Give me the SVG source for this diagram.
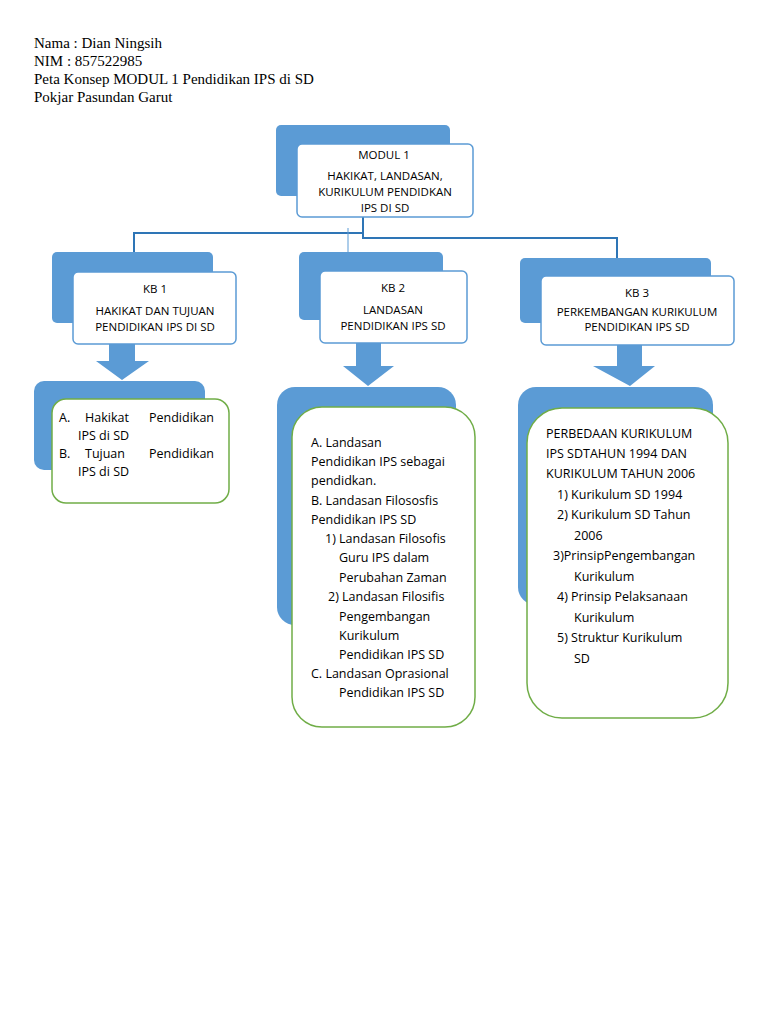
<svg xmlns="http://www.w3.org/2000/svg" width="768" height="1024" viewBox="0 0 768 1024">
<style>
.bl{fill:#5b9bd5}
.wb{fill:#fff;stroke:#5b9bd5;stroke-width:1.5}
.gb{fill:#fff;stroke:#70ad47;stroke-width:1.5}
.hd{font-family:"Liberation Serif",serif;font-size:15px;fill:#000}
.t{font-family:"Open Sans","Liberation Sans",sans-serif;font-size:11.5px;fill:#000}
.c{font-family:"Open Sans","Liberation Sans",sans-serif;font-size:12.5px;fill:#000}
.ln{fill:none;stroke:#2e75b6;stroke-width:2}
</style>
<rect width="768" height="1024" fill="#fff"/>
<g id="header">
<text class="hd" x="34" y="48">Nama : Dian Ningsih</text>
<text class="hd" x="34" y="66">NIM   : 857522985</text>
<text class="hd" x="34" y="84">Peta Konsep MODUL 1 Pendidikan IPS di SD</text>
<text class="hd" x="34" y="102">Pokjar Pasundan Garut</text>
</g>
<g id="connectors">
<polyline class="ln" points="363,217 363,233 134,233 134,252"/>
<polyline class="ln" points="363,230 363,238 617,238 617,258"/>
<line x1="348" y1="228" x2="348" y2="252" stroke="#5b9bd5" stroke-width="1"/>
<polygon class="bl" points="109,344 135,344 135,361 149,361 122,380 96,361 109,361"/>
<polygon class="bl" points="356,343 381,343 381,366 394,366 368,386 343,366 356,366"/>
<polygon class="bl" points="617,345 642,345 642,366 655,366 630,386 593,366 617,366"/>
</g>
<g id="modul1">
<rect class="bl" x="276" y="125" width="174" height="71" rx="5"/>
<rect class="wb" x="297" y="144" width="176" height="73" rx="5"/>
<text class="t" text-anchor="middle" x="384" y="159">MODUL 1</text>
<text class="t" text-anchor="middle" x="385" y="180">HAKIKAT, LANDASAN,</text>
<text class="t" text-anchor="middle" x="385" y="196">KURIKULUM PENDIDKAN</text>
<text class="t" text-anchor="middle" x="385" y="212">IPS DI SD</text>
</g>
<g id="kb1">
<rect class="bl" x="52" y="252" width="161" height="71" rx="5"/>
<rect class="wb" x="73" y="272" width="163" height="72" rx="5"/>
<text class="t" text-anchor="middle" x="155" y="293">KB 1</text>
<text class="t" text-anchor="middle" x="155" y="315">HAKIKAT DAN TUJUAN</text>
<text class="t" text-anchor="middle" x="155" y="331">PENDIDIKAN IPS DI SD</text>
</g>
<g id="kb2">
<rect class="bl" x="299" y="252" width="144" height="68" rx="5"/>
<rect class="wb" x="320" y="271" width="147" height="72" rx="5"/>
<text class="t" text-anchor="middle" x="393" y="292">KB 2</text>
<text class="t" text-anchor="middle" x="393" y="314">LANDASAN</text>
<text class="t" text-anchor="middle" x="393" y="330">PENDIDIKAN IPS SD</text>
</g>
<g id="kb3">
<rect class="bl" x="520" y="258" width="191" height="65" rx="5"/>
<rect class="wb" x="541" y="276" width="193" height="69" rx="5"/>
<text class="t" text-anchor="middle" x="637" y="297">KB 3</text>
<text class="t" text-anchor="middle" x="637" y="316">PERKEMBANGAN KURIKULUM</text>
<text class="t" text-anchor="middle" x="637" y="331">PENDIDIKAN IPS SD</text>
</g>
<g id="kb1content">
<rect class="bl" x="34" y="381" width="171" height="89" rx="10"/>
<rect class="gb" x="52" y="399" width="177" height="104" rx="14"/>
<text class="c" x="59" y="422">A.</text><text class="c" x="85" y="422">Hakikat</text><text class="c" x="214" y="422" text-anchor="end">Pendidikan</text>
<text class="c" x="78" y="440">IPS      di SD</text>
<text class="c" x="59" y="458">B.</text><text class="c" x="85" y="458">Tujuan</text><text class="c" x="214" y="458" text-anchor="end">Pendidikan</text>
<text class="c" x="78" y="476">IPS di SD</text>
</g>
<g id="kb2content">
<rect class="bl" x="277" y="387" width="179" height="238" rx="18"/>
<rect class="gb" x="292" y="407" width="183" height="320" rx="30"/>
<text class="c" x="311" y="447">A. Landasan</text>
<text class="c" x="311" y="466">Pendidikan IPS sebagai</text>
<text class="c" x="311" y="485">pendidkan.</text>
<text class="c" x="311" y="505">B. Landasan Filososfis</text>
<text class="c" x="311" y="524">Pendidikan IPS SD</text>
<text class="c" x="325" y="543">1) Landasan Filosofis</text>
<text class="c" x="339" y="562">Guru IPS dalam</text>
<text class="c" x="339" y="582">Perubahan Zaman</text>
<text class="c" x="328" y="601">2) Landasan Filosifis</text>
<text class="c" x="339" y="621">Pengembangan</text>
<text class="c" x="339" y="640">Kurikulum</text>
<text class="c" x="339" y="659">Pendidikan IPS SD</text>
<text class="c" x="311" y="678">C. Landasan Oprasional</text>
<text class="c" x="339" y="697">Pendidikan IPS SD</text>
</g>
<g id="kb3content">
<rect class="bl" x="518" y="387" width="195" height="218" rx="18"/>
<rect class="gb" x="527" y="408" width="201" height="310" rx="35"/>
<text class="c" x="546" y="438">PERBEDAAN KURIKULUM</text>
<text class="c" x="546" y="458">IPS SDTAHUN 1994 DAN</text>
<text class="c" x="546" y="478">KURIKULUM TAHUN 2006</text>
<text class="c" x="557" y="499">1) Kurikulum SD 1994</text>
<text class="c" x="557" y="519">2) Kurikulum SD Tahun</text>
<text class="c" x="574" y="540">2006</text>
<text class="c" x="553" y="560">3)PrinsipPengembangan</text>
<text class="c" x="574" y="581">Kurikulum</text>
<text class="c" x="557" y="601">4) Prinsip Pelaksanaan</text>
<text class="c" x="574" y="622">Kurikulum</text>
<text class="c" x="557" y="642">5) Struktur Kurikulum</text>
<text class="c" x="574" y="663">SD</text>
</g>
</svg>
